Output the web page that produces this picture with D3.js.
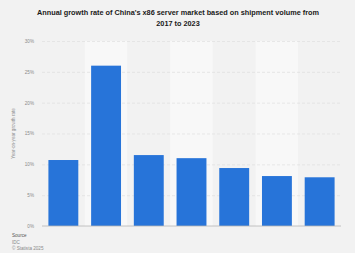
<!DOCTYPE html>
<html>
<head>
<meta charset="utf-8">
<script src="https://cdn.jsdelivr.net/npm/d3@7"></script>
<style>
  body { margin: 0; background: #f2f2f2; }
  svg { display: block; font-family: Arial, "Liberation Sans", sans-serif; }
</style>
</head>
<body>
<svg id="chart"></svg>
<script>
// data
var years = ["2017", "2018", "2019", "2020", "2021", "2022", "2023"];
var growth = [10.7, 26.0, 11.5, 11.0, 9.4, 8.1, 7.9];
var yTicks = [0, 5, 10, 15, 20, 25, 30];

(function barChart() {
    var svg = d3.select("#chart").attr("width", 355).attr("height", 253),
        margin = {top: 41, right: 14, bottom: 27, left: 42},
        width = 355 - margin.left - margin.right,
        height = 253 - margin.top - margin.bottom;

    svg.append("rect").attr("width", 355).attr("height", 253).attr("fill", "#f2f2f2");

    // title
    var title = svg.append("text")
        .attr("x", 178)
        .attr("text-anchor", "middle")
        .attr("font-size", "7.3px")
        .attr("font-weight", "bold")
        .attr("fill", "#1a1a1a");
    title.append("tspan").attr("x", 178).attr("y", 15)
        .text("Annual growth rate of China's x86 server market based on shipment volume from");
    title.append("tspan").attr("x", 178).attr("y", 26).text("2017 to 2023");

    var g = svg.append("g").attr("transform", "translate(" + margin.left + "," + margin.top + ")");

    var x = d3.scaleBand().domain(years).range([0, width]).paddingInner(0.3).paddingOuter(0.15);
    var y = d3.scaleLinear().domain([0, 30]).range([height, 0]);

    // alternating column backgrounds
    var step = x.step();
    g.selectAll(".band")
        .data(years)
        .enter().append("rect")
        .attr("class", "band")
        .attr("x", function (d, i) { return i * step; })
        .attr("y", 0)
        .attr("width", step)
        .attr("height", height)
        .attr("fill", function (d, i) { return i % 2 ? "#f8f8f8" : "#f2f2f2"; });

    // gridlines
    g.append("g")
        .attr("class", "grid")
        .call(d3.axisLeft(y).tickValues(yTicks.slice(1)).tickSize(-width).tickFormat(""))
        .call(function (a) {
            a.select(".domain").remove();
            a.selectAll("line").attr("stroke", "#dcdcdc").attr("stroke-width", 0.6)
                .attr("stroke-dasharray", "3,2");
        });

    // y axis labels
    g.append("g")
        .call(d3.axisLeft(y).tickValues(yTicks).tickSize(0).tickPadding(8)
            .tickFormat(function (d) { return d + "%"; }))
        .call(function (a) {
            a.select(".domain").remove();
            a.selectAll("text").attr("font-size", "4.6px").attr("fill", "#8a8a8a")
                .attr("font-family", "Arial, Liberation Sans, sans-serif");
        });

    // bars
    g.selectAll(".bar")
        .data(growth)
        .enter().append("rect")
        .attr("class", "bar")
        .attr("x", function (d, i) { return x(years[i]); })
        .attr("y", function (d) { return y(d); })
        .attr("width", x.bandwidth())
        .attr("height", function (d) { return height - y(d); })
        .attr("fill", "#2774d9");

    // baseline
    g.append("line")
        .attr("x1", 0).attr("x2", width)
        .attr("y1", height).attr("y2", height)
        .attr("stroke", "#b5b5b5").attr("stroke-width", 0.8);

    // y axis title
    svg.append("text")
        .attr("transform", "translate(15," + (margin.top + height / 2) + ") rotate(-90)")
        .attr("text-anchor", "middle")
        .attr("font-size", "4.6px")
        .attr("fill", "#8a8a8a")
        .text("Year-on-year growth rate");

    // source
    var src = svg.append("g").attr("font-size", "4.6px").attr("fill", "#8a8a8a");
    src.append("text").attr("x", 12).attr("y", 237).attr("fill", "#555").text("Source");
    src.append("text").attr("x", 12).attr("y", 243.5).text("IDC");
    src.append("text").attr("x", 12).attr("y", 250).text("© Statista 2025");
}());
</script>
</body>
</html>
